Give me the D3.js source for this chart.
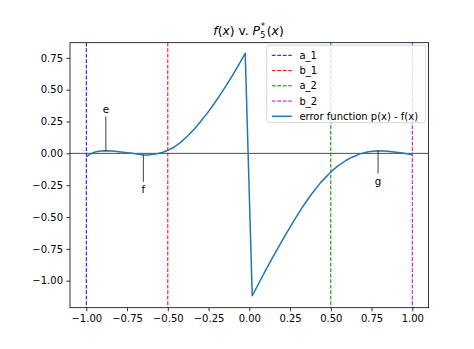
<!DOCTYPE html>
<html>
<head>
<meta charset="utf-8">
<script src="https://cdn.jsdelivr.net/npm/d3@7"></script>
<style>
  body { margin: 0; background: #fff; }
  svg { display: block; }
  text { font-family: "DejaVu Sans", sans-serif; fill: #000; }
</style>
</head>
<body>
<svg id="chart" width="474" height="349"></svg>
<script>
// Error function p(x) - f(x), sampled along [-1, 1]
const errX = [-1.0, -0.97, -0.94, -0.91, -0.88, -0.84, -0.80, -0.76, -0.72, -0.68, -0.65,
              -0.62, -0.59, -0.56, -0.53, -0.50, -0.46, -0.42, -0.38, -0.34, -0.30, -0.26,
              -0.22, -0.18, -0.14, -0.10, -0.06, -0.025,
               0.018, 0.06, 0.10, 0.14, 0.18, 0.23, 0.28, 0.33, 0.38, 0.44, 0.50, 0.54,
               0.59, 0.63, 0.68, 0.73, 0.79, 0.85, 0.90, 0.95, 1.0];
const errY = [-0.027, 0.0, 0.012, 0.018, 0.02, 0.018, 0.013, 0.007, 0.0, -0.008, -0.012,
              -0.012, -0.008, -0.001, 0.009, 0.024, 0.05, 0.088, 0.134, 0.188, 0.248, 0.312,
               0.382, 0.457, 0.536, 0.619, 0.706, 0.785,
              -1.118, -1.016, -0.919, -0.824, -0.734, -0.623, -0.516, -0.415, -0.323, -0.226, -0.146, -0.102,
              -0.058, -0.030, -0.004, 0.012, 0.02, 0.017, 0.009, 0.0, -0.01];

// Interval boundaries
const boundX = [-1, -0.5, 0.5, 1];
const boundLabels = ["a_1", "b_1", "a_2", "b_2"];
const boundColors = ["#0000ff", "#ff0000", "#008000", "#bf00bf"];
const errLabel = "error function p(x) - f(x)";
const errColor = "#1f77b4";

// Extrema annotations
const markLabels = ["e", "f", "g"];
const markX = [-0.88, -0.65, 0.79];
const markY = [0.02, -0.012, 0.02];
const markTextY = [0.32, -0.314, -0.249];

const xTicks = [-1, -0.75, -0.5, -0.25, 0, 0.25, 0.5, 0.75, 1];
const yTicks = [-1, -0.75, -0.5, -0.25, 0, 0.25, 0.5, 0.75];

const svg = d3.select("#chart");
const L = 70, R = 428.6, T = 42.7, B = 307.7;

const x = d3.scaleLinear().domain([-1.1, 1.1]).range([L, R]);
const y = d3.scaleLinear().domain([-1.212, 0.869]).range([B, T]);
const fmt = d3.format(".2f");

svg.append("defs").append("clipPath").attr("id", "plotClip")
  .append("rect").attr("x", L).attr("y", T).attr("width", R - L).attr("height", B - T);

const plot = svg.append("g").attr("clip-path", "url(#plotClip)");

// zero line
plot.append("line")
  .attr("x1", L).attr("x2", R).attr("y1", y(0)).attr("y2", y(0))
  .attr("stroke", "#000").attr("stroke-width", 0.7);

// boundary lines
boundX.forEach((bx, i) => {
  plot.append("line")
    .attr("x1", x(bx)).attr("x2", x(bx)).attr("y1", T).attr("y2", B)
    .attr("stroke", boundColors[i]).attr("stroke-width", 1)
    .attr("stroke-dasharray", "3.8,1.7");
});

// error curve
const line = d3.line().x((d, i) => x(errX[i])).y(d => y(d));
plot.append("path")
  .datum(errY)
  .attr("d", line)
  .attr("fill", "none")
  .attr("stroke", errColor)
  .attr("stroke-width", 1.5)
  .attr("stroke-linejoin", "round");

// annotations
markLabels.forEach((lab, i) => {
  const px = x(markX[i]);
  const py = y(markY[i]);
  const ty = y(markTextY[i]);
  const above = markTextY[i] > markY[i];
  const lineEnd = above ? ty + 4 : ty - 11.5;
  svg.append("line")
    .attr("x1", px).attr("x2", px).attr("y1", py).attr("y2", lineEnd)
    .attr("stroke", "#000").attr("stroke-width", 1).attr("stroke-opacity", 0.75);
  svg.append("text")
    .attr("x", px).attr("y", ty)
    .attr("text-anchor", "middle")
    .attr("font-size", 10.3)
    .text(lab);
});

// axes frame
svg.append("rect")
  .attr("x", L).attr("y", T).attr("width", R - L).attr("height", B - T)
  .attr("fill", "none").attr("stroke", "#000").attr("stroke-width", 0.8);

// x axis
const xAxis = d3.axisBottom(x).tickValues(xTicks).tickFormat(fmt).tickSize(3.6).tickPadding(3.4);
const gx = svg.append("g").attr("transform", `translate(0,${B})`).call(xAxis);
// y axis
const yAxis = d3.axisLeft(y).tickValues(yTicks).tickFormat(fmt).tickSize(3.6).tickPadding(3.4);
const gy = svg.append("g").attr("transform", `translate(${L},0)`).call(yAxis);

[gx, gy].forEach(g => {
  g.select(".domain").remove();
  g.selectAll(".tick line").attr("stroke", "#000").attr("stroke-width", 0.8);
  g.selectAll(".tick text")
    .attr("font-family", "DejaVu Sans, sans-serif")
    .attr("font-size", 10)
    .attr("fill", "#000");
});

// title: f(x) v. P_5^*(x)
const title = svg.append("text")
  .attr("x", 248.5).attr("y", 34.5)
  .attr("text-anchor", "middle")
  .attr("font-size", 12.3);
title.append("tspan").attr("font-style", "italic").text("f");
title.append("tspan").text("(");
title.append("tspan").attr("font-style", "italic").text("x");
title.append("tspan").text(")");
title.append("tspan").text(" v. ");
title.append("tspan").attr("font-style", "italic").text("P");
title.append("tspan").attr("font-size", 8).attr("dx", 1).attr("dy", -6).text("*");
title.append("tspan").attr("font-size", 8).attr("dx", -4.8).attr("dy", 9.5).text("5");
title.append("tspan").attr("dy", -3.5).attr("dx", 1.5).text("(");
title.append("tspan").attr("font-style", "italic").text("x");
title.append("tspan").text(")");

// legend
const lg = svg.append("g");
const LX = 266.7, LY = 45.2, LW = 159, LH = 77.5;
lg.append("rect")
  .attr("x", LX).attr("y", LY).attr("width", LW).attr("height", LH)
  .attr("rx", 2.5).attr("ry", 2.5)
  .attr("fill", "#fff").attr("fill-opacity", 0.8)
  .attr("stroke", "#cccccc").attr("stroke-width", 0.8);

const entries = boundLabels.map((l, i) => ({ label: l, color: boundColors[i], dash: true }))
  .concat([{ label: errLabel, color: errColor, dash: false }]);
entries.forEach((e, i) => {
  const cy = 55.3 + i * 15.25;
  lg.append("line")
    .attr("x1", 271.8).attr("x2", 291.8).attr("y1", cy).attr("y2", cy)
    .attr("stroke", e.color)
    .attr("stroke-width", e.dash ? 1 : 1.5)
    .attr("stroke-dasharray", e.dash ? "3.8,1.7" : null);
  lg.append("text")
    .attr("x", 299.4).attr("y", cy + 3.6)
    .attr("font-size", 10)
    .text(e.label);
});
</script>
</body>
</html>
